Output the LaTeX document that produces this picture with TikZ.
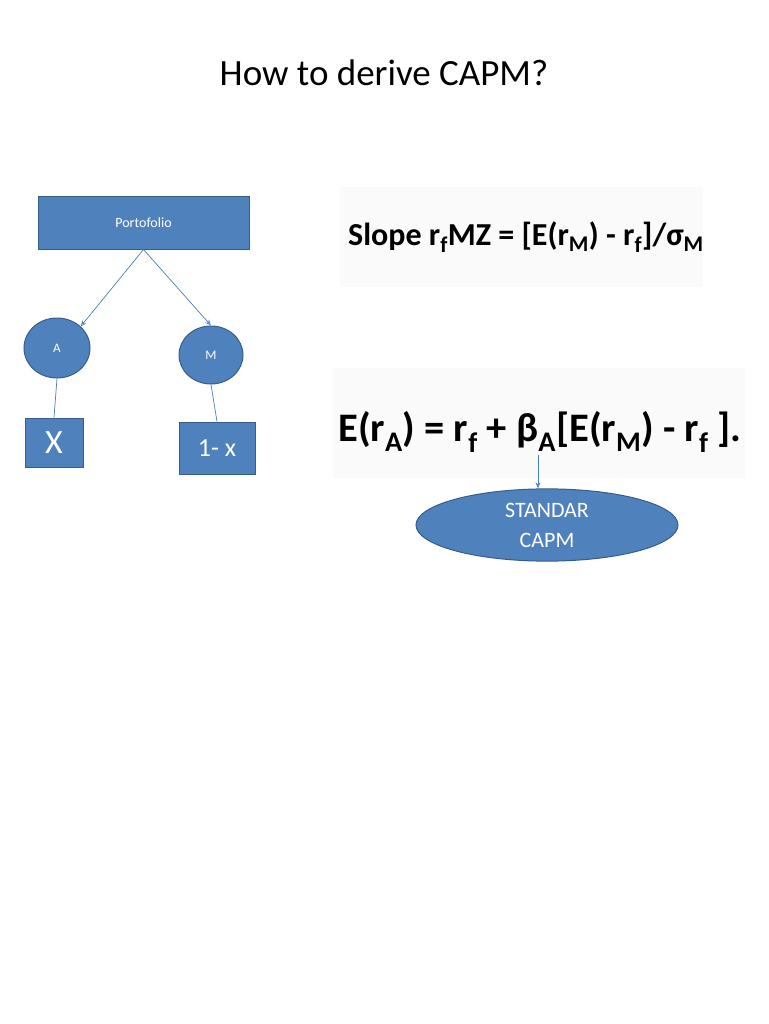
\documentclass[tikz,border=0pt]{standalone}
\usepackage{fontspec}
\setmainfont{Carlito}
\usetikzlibrary{arrows.meta,shapes.geometric}
\definecolor{bl}{HTML}{4F81BD}
\definecolor{bd}{HTML}{385D8A}
\definecolor{ln}{HTML}{4A7EBB}
\begin{document}
\begin{tikzpicture}[x=1pt,y=-1pt,
 boxst/.style={draw=bd,fill=bl,line width=1pt,text=white},
 con/.style={draw=ln,line width=0.7pt},
 arr/.style={con,-{Stealth[length=6pt,width=5pt,open]}}]
\useasboundingbox (0,0) rectangle (768,1024);
\node (title) at (384,73) {\fontsize{37}{40}\selectfont How to derive CAPM?};
\node[boxst,minimum width=211,minimum height=52] (port) at (143.5,223) {\fontsize{14}{16}\selectfont Portofolio};
\node[boxst,ellipse,minimum width=66,minimum height=60] (A) at (57,348) {\fontsize{13}{15}\selectfont A};
\node[boxst,ellipse,minimum width=64,minimum height=58] (M) at (211,355) {\fontsize{13}{15}\selectfont M};
\node[boxst,minimum width=58,minimum height=49] (X) at (54,442.5) {\fontsize{34}{38}\selectfont X};
\node[boxst,minimum width=76,minimum height=52] (Y) at (217,448) {\fontsize{26}{30}\selectfont 1- x};
\draw[arr] (port.south) -- (A.north east);
\draw[arr] (port.south) -- (M.north);
\draw[con] (A.south) -- (X.north);
\draw[con] (M.south) -- (Y.north);
\fill[black!2] (340,187) rectangle (703,287);
\node (f1) at (526,237) {\fontsize{32}{34}\selectfont\bfseries Slope r\textsubscript{f}MZ = [E(r\textsubscript{M}) - r\textsubscript{f}]/σ\textsubscript{M}};
\fill[black!2] (333,368) rectangle (745,478);
\node (f2) at (540,432) {\fontsize{40.5}{44}\selectfont\bfseries E(r\textsubscript{A}) = r\textsubscript{f} + β\textsubscript{A}[E(r\textsubscript{M}) - r\textsubscript{f} ].};
\coordinate (s) at (538,455);
\node[boxst,ellipse,minimum width=262,minimum height=62,align=center,font=\fontsize{22}{30}\selectfont] (E) at (547,525) {STANDAR\\CAPM};
\draw[arr] (s) -- (E.north -| s);
\end{tikzpicture}
\end{document}
